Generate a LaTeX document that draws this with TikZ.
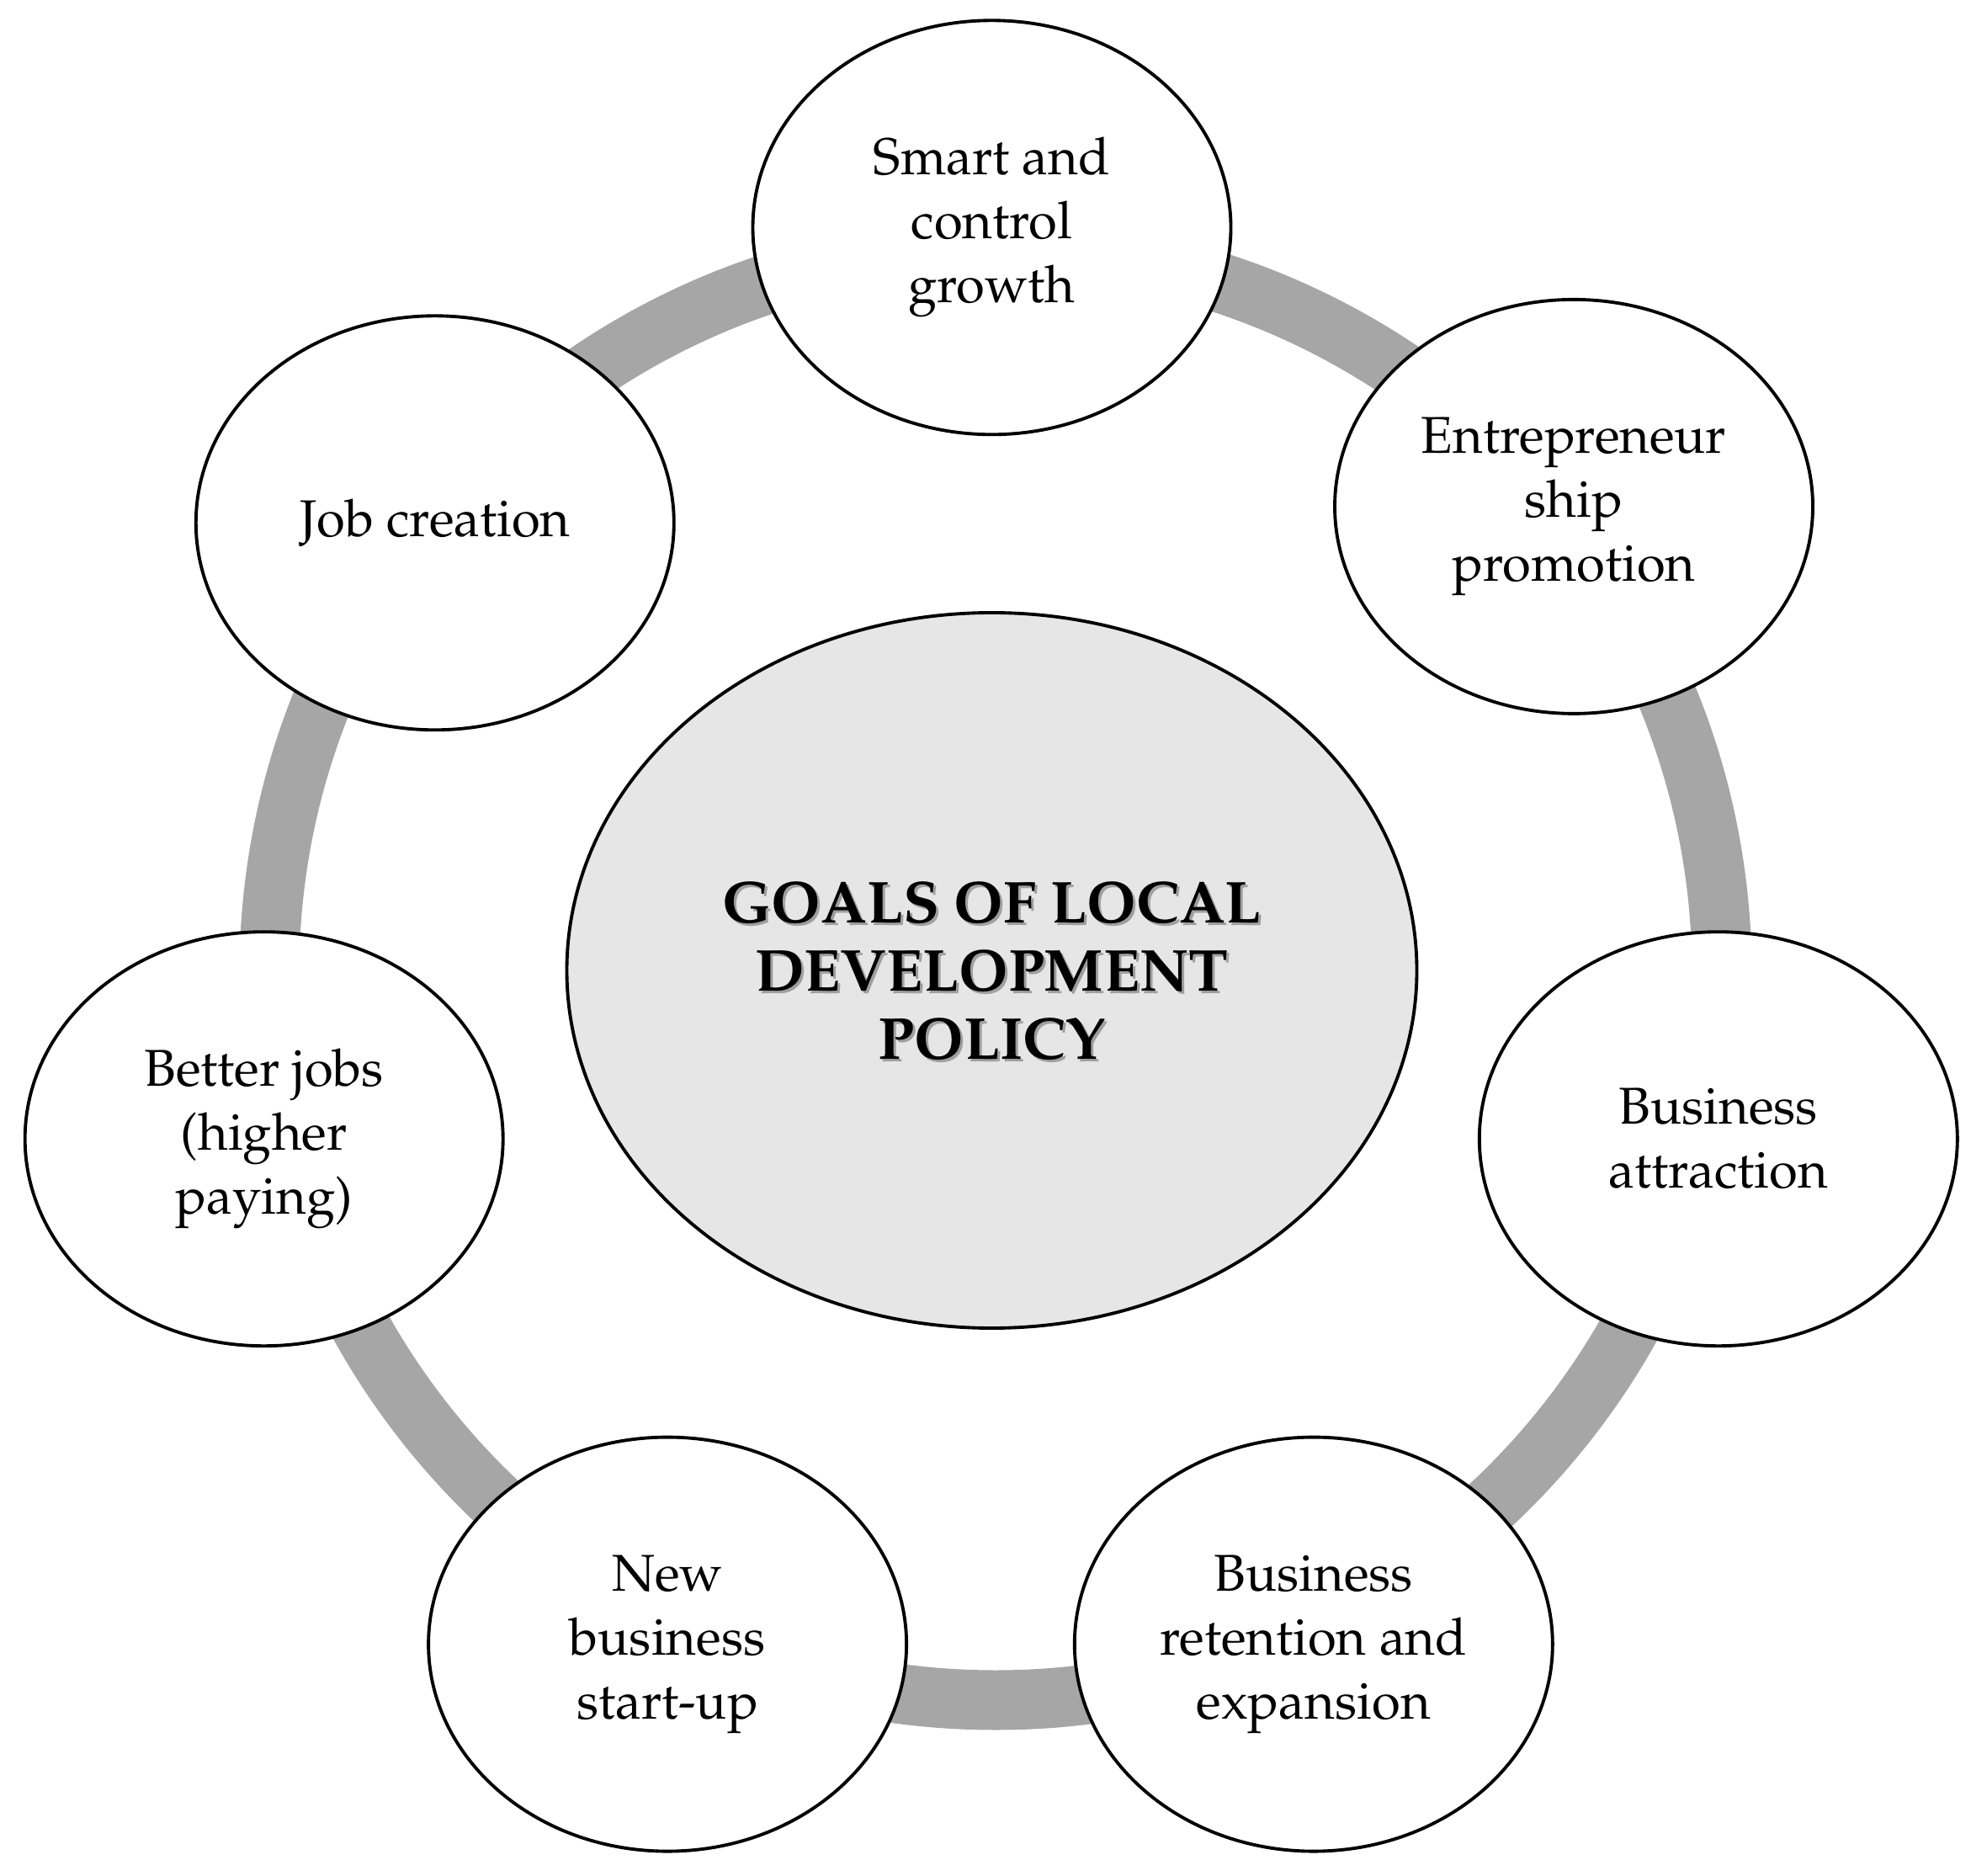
\documentclass[tikz,border=0pt]{standalone}
\usepackage[T1]{fontenc}
\usepackage{mathpazo}
\usetikzlibrary{shapes.geometric}
\definecolor{ringgray}{RGB}{166,166,166}
\definecolor{coregray}{RGB}{230,230,231}
\begin{document}
\begin{tikzpicture}[
  goal/.style={ellipse, draw=black, line width=1.1pt, fill=white,
    minimum width=5.68cm, minimum height=4.92cm, inner sep=0pt,
    align=center, font=\fontsize{17.5}{21.6}\selectfont},
  core/.style={ellipse, draw=black, line width=1.1pt, fill=coregray,
    minimum width=10.1cm, minimum height=8.5cm, inner sep=0pt},
  coretext/.style={align=center, inner sep=0pt,
    font=\fontsize{20}{23}\selectfont\bfseries},
  ring/.style={draw=ringgray, line width=0.71cm}
]
\useasboundingbox (0,0) rectangle (23.42,22.28);
\coordinate (C) at (11.785,10.75);
\coordinate (R) at (11.83,10.71);
\draw[ring] (R) circle (8.63);
\node[core] (core) at (C) {};
\node[coretext, text=gray!75] (coreshadow) at (11.815,10.72) {GOALS OF LOCAL\\DEVELOPMENT\\POLICY};
\node[coretext] (coretitle) at (C) {GOALS OF LOCAL\\DEVELOPMENT\\POLICY};
\node[goal] (smart) at (11.785,19.577) {Smart and\\control\\growth};
\node[goal] (entre) at (18.70,16.261) {Entrepreneur\\ship\\promotion};
\node[goal] (attract) at (20.418,8.748) {Business\\attraction};
\node[goal] (retain) at (15.608,2.744) {Business\\retention and\\expansion};
\node[goal] (startup) at (7.931,2.744) {New\\business\\start-up};
\node[goal] (better) at (3.137,8.748) {Better jobs\\(higher\\paying)};
\node[goal] (job) at (5.168,16.067) {Job creation};
\end{tikzpicture}
\end{document}
